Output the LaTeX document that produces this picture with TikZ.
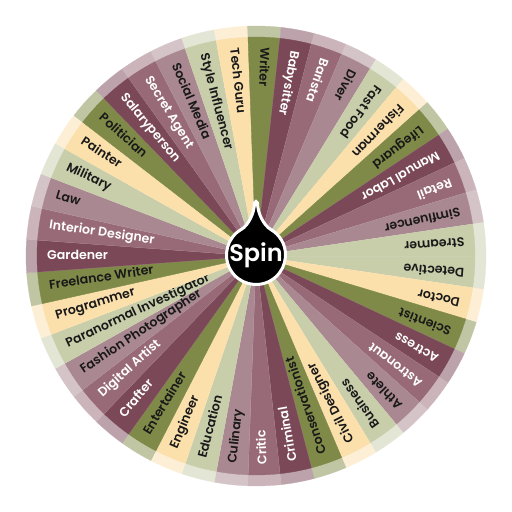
\documentclass[tikz,border=0pt]{standalone}
\usepackage{fontspec}
\setmainfont{Poppins}[UprightFont=*-Medium, BoldFont=*-SemiBold]
\definecolor{c0}{RGB}{200,205,170}
\definecolor{c1}{RGB}{252,224,172}
\definecolor{c2}{RGB}{128,138,72}
\definecolor{c3}{RGB}{122,72,86}
\definecolor{c4}{RGB}{152,106,120}
\definecolor{c5}{RGB}{170,136,146}
\colorlet{t0}{black!90}
\colorlet{t1}{black!90}
\colorlet{t2}{black!90}
\colorlet{t3}{white}
\colorlet{t4}{white}
\colorlet{t5}{black!90}
\begin{document}
\begin{tikzpicture}[x=1pt,y=1pt,
  lab/.style={anchor=west, inner sep=0pt, font=\bfseries\fontsize{12.6}{12}\selectfont, text height=1.45ex, text depth=.35ex}]
\useasboundingbox (-256,-256) rectangle (256,256);
\foreach \lab [count=\i from 0] in {Detective, Doctor, Scientist, Actress, Astronaut, Athlete, Business, Civil Designer, Conservationist, Criminal, Critic, Culinary, Education, Engineer, Entertainer, Crafter, Digital Artist, Fashion Photographer, Paranormal Investigator, Programmer, Freelance Writer, Gardener, Interior Designer, Law, Military, Painter, Politician, Salaryperson, Secret Agent, Social Media, Style Influencer, Tech Guru, Writer, Babysitter, Barista, Diver, Fast Food, Fisherman, Lifeguard, Manual Labor, Retail, Simfluencer, Streamer}{
  \pgfmathtruncatemacro\c{mod(\i,6)}
  \pgfmathsetmacro\aa{-\i*360/43}
  \pgfmathsetmacro\ab{-(\i+1)*360/43}
  \pgfmathsetmacro\am{-(\i+0.5)*360/43}
  \filldraw[c\c!50!white, line width=0.3pt] (0,0) -- (\aa:230) arc[start angle=\aa, end angle=\ab, radius=230] -- cycle;
  \filldraw[c\c, line width=0.3pt] (0,0) -- (\aa:219) arc[start angle=\aa, end angle=\ab, radius=219] -- cycle;
  \node[lab, text=t\c, rotate=\am+180] (n\i) at (\am:209) {\lab};
}
\begin{scope}[yshift=1pt]
\filldraw[fill=black, draw=white, line width=3pt]
  (60:29.5) .. controls (7.8,29.5) and (1.5,42) .. (1.5,52)
  arc[start angle=0, end angle=180, radius=1.5]
  .. controls (-1.5,42) and (-7.8,29.5) .. (120:29.5)
  arc[start angle=120, end angle=420, radius=29.5] -- cycle;
\end{scope}
\node[text=white, font=\bfseries\fontsize{24}{24}\selectfont, inner sep=0pt] (spin) at (0,1) {Spin};
\end{tikzpicture}
\end{document}
